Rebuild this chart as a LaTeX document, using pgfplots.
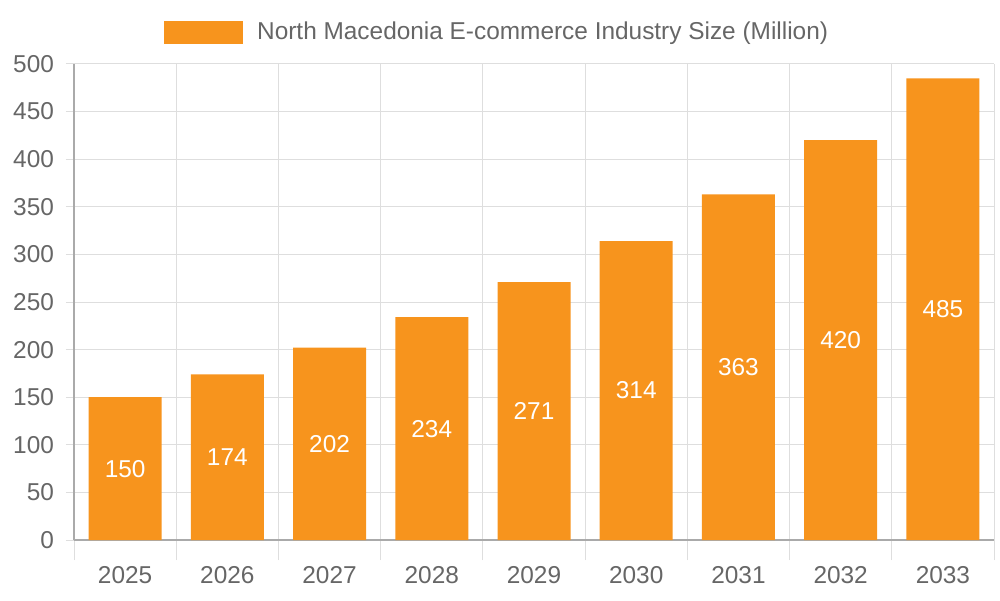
\documentclass[border=0pt]{standalone}
\usepackage{pgfplots}
\pgfplotsset{compat=1.18}
\usepackage{fontspec}
\setmainfont{Liberation Sans}
\definecolor{barorange}{HTML}{F7941D}
\definecolor{txtgray}{HTML}{666666}
\definecolor{gridgray}{HTML}{DEDEDE}
\definecolor{axgray}{HTML}{AAAAAA}
\newcommand{\chartfont}{\fontsize{12.2}{14.6}\selectfont}
\begin{document}
\begin{tikzpicture}
\path[use as bounding box] (0,0) rectangle (500pt,300pt);
\begin{axis}[
  at={(37pt,30pt)}, anchor=south west,
  scale only axis, width=460pt, height=238pt,
  /pgf/number format/assume math mode=true,
  ybar, bar width=36.5pt,
  xmin=-0.5, xmax=8.5, ymin=0, ymax=500,
  xtick={0,...,8},
  xticklabels={2025,2026,2027,2028,2029,2030,2031,2032,2033},
  minor xtick={-0.5,0.5,...,8.5},
  ytick={0,50,...,500},
  xminorgrids, ymajorgrids,
  axis x line*=bottom, axis y line*=left,
  axis line style={axgray, line width=0.75pt},
  tick align=outside,
  major tick length=4pt, minor tick length=10pt,
  tick style={gridgray, line width=0.5pt},
  major x tick style={draw=none},
  grid style={gridgray, line width=0.5pt},
  ticklabel style={font=\chartfont, text=txtgray},
  yticklabel style={xshift=-2.5pt},
  xticklabel style={yshift=-5.5pt},
  nodes near coords,
  visualization depends on={rawy \as \rawy},
  every node near coord/.append style={font=\chartfont, text=white,
    anchor=center, yshift={-\rawy*0.238pt}},
  legend style={at={(0.461,1.067)}, anchor=center, draw=none, fill=none,
    font=\chartfont, text=txtgray, legend cell align=left},
]
\addplot[fill=barorange, draw=none,
  legend image code/.code={\fill[barorange] (0pt,-5.75pt) rectangle (39.5pt,5.75pt);}]
  coordinates {
  (0,150) (1,174) (2,202) (3,234) (4,271) (5,314) (6,363) (7,420) (8,485)
};
\addlegendentry{\hspace{5pt}North Macedonia E-commerce Industry Size (Million)}
\end{axis}
\end{tikzpicture}
\end{document}
